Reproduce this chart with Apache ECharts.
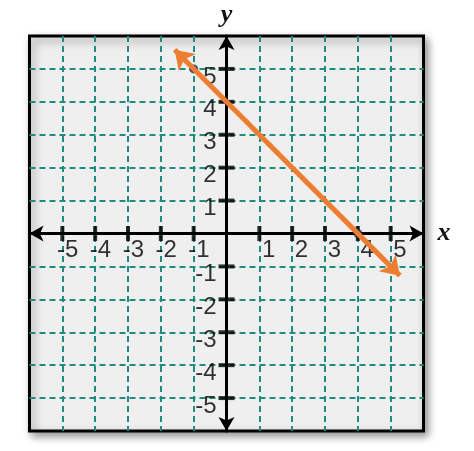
<!DOCTYPE html>
<html><head><meta charset="utf-8">
<script src="https://cdn.jsdelivr.net/npm/echarts@6/dist/echarts.min.js"></script>
<style>html,body{margin:0;padding:0;background:#fff}#c{width:474px;height:451px}</style>
</head><body><div id="c"></div>
<script>
// axis range and ticks
const axisMin = -6, axisMax = 6;
const tickValues = [-5, -4, -3, -2, -1, 1, 2, 3, 4, 5];
const tickLabels = ['-5', '-4', '-3', '-2', '-1', '1', '2', '3', '4', '5'];
// graphed line endpoints (arrow tips)
const lineX = [-1.58, 5.28];
const lineY = [5.58, -1.28];
// plotted points
const pointsX = [-1, 4];
const pointsY = [5, 0];

const nameFont = { fontFamily: 'Liberation Serif', fontStyle: 'italic', fontWeight: 'bold', fontSize: 26, color: '#111' };

function axisCfg(name, gap) {
  return {
    type: 'value', min: axisMin, max: axisMax, interval: 1,
    name: name, nameLocation: 'end', nameGap: gap, nameTextStyle: nameFont,
    axisLine: { show: true, onZero: true, symbol: ['arrow', 'arrow'], symbolSize: [12, 14],
      lineStyle: { color: '#000', width: 3 } },
    axisTick: { show: false },
    axisLabel: { show: false },
    splitLine: { show: true, showMinLine: false, showMaxLine: false,
      lineStyle: { color: '#1f8c7d', type: [6, 4], width: 2 } }
  };
}

const chart = echarts.init(document.getElementById('c'));
chart.setOption({
  animation: false,
  grid: { left: 29.5, right: 50.5, top: 36, bottom: 20, show: true, outerBoundsMode: 'none',
    backgroundColor: '#efefef', borderColor: '#000', borderWidth: 3,
    shadowColor: 'rgba(0,0,0,0.4)', shadowBlur: 8, shadowOffsetX: 3, shadowOffsetY: 4 },
  xAxis: axisCfg('x', 14),
  yAxis: axisCfg('y', 8),
  series: [
    {
      type: 'scatter', z: 3,
      data: tickValues.map((v, i) => ({ value: [v, 0], name: tickLabels[i] })),
      symbol: 'rect', symbolSize: [4, 15], itemStyle: { color: '#000' },
      label: { show: true, position: 'inside', align: 'right', verticalAlign: 'middle',
        offset: [16, 17], formatter: p => p.name,
        fontFamily: 'Liberation Sans', fontSize: 24, color: '#000', textBorderWidth: 0 }
    },
    {
      type: 'scatter', z: 3,
      data: tickValues.map((v, i) => ({ value: [0, v], name: tickLabels[i] })),
      symbol: 'rect', symbolSize: [16, 4], itemStyle: { color: '#000' },
      label: { show: true, position: 'inside', align: 'right', verticalAlign: 'middle',
        offset: [-10, 8], formatter: p => p.name,
        fontFamily: 'Liberation Sans', fontSize: 24, color: '#000', textBorderWidth: 0 }
    },
    {
      type: 'scatter', z: 4,
      data: pointsX.map((x, i) => [x, pointsY[i]]),
      symbolSize: 9, itemStyle: { color: '#1c2a48' }
    },
    {
      type: 'lines', coordinateSystem: 'cartesian2d', z: 5,
      data: [{ coords: [[lineX[0], lineY[0]], [lineX[1], lineY[1]]] }],
      symbol: ['arrow', 'arrow'], symbolSize: 18,
      lineStyle: { color: '#ED7D31', width: 5, opacity: 1 }
    }
  ]
});
</script></body></html>
